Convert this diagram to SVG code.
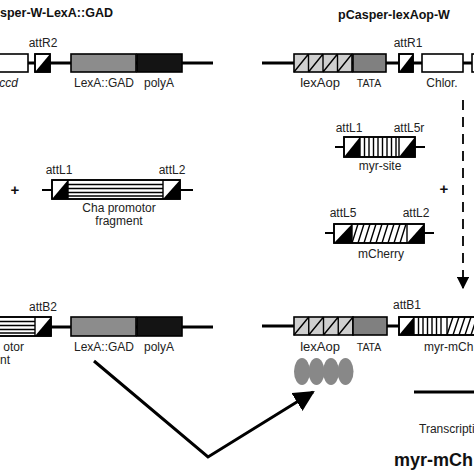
<svg xmlns="http://www.w3.org/2000/svg" width="474" height="474" viewBox="0 0 474 474">
<defs>
<style>
.bb{stroke:#000;stroke-width:3;fill:none}
.st{stroke:#000;stroke-width:2;fill:none}
.bx{stroke:#000;stroke-width:1.6}
.ln{stroke:#000;stroke-width:1.4}
.t{font-family:"Liberation Sans",Arial,sans-serif;font-size:12px;fill:#222}
.ts{font-family:"Liberation Sans",Arial,sans-serif;font-size:10.5px;fill:#222}
.tl{font-family:"Liberation Sans",Arial,sans-serif;font-size:13px;fill:#222}
.tb{font-family:"Liberation Sans",Arial,sans-serif;font-weight:bold;fill:#111}
</style>
<marker id="ah" viewBox="0 0 10 10" refX="9" refY="5" markerWidth="7" markerHeight="7" orient="auto" markerUnits="strokeWidth"><path d="M0,0 L10,5 L0,10 z" fill="#000"/></marker>
<marker id="ah2" viewBox="0 0 10 10" refX="9" refY="5" markerWidth="7" markerHeight="7" orient="auto" markerUnits="strokeWidth"><path d="M0,0 L10,5 L0,10 z" fill="#000"/></marker>
</defs>
<rect width="474" height="474" fill="#fff"/>

<g id="connectors">
<line x1="463" y1="100" x2="463" y2="288" stroke="#000" stroke-width="1.8" stroke-dasharray="10,7" marker-end="url(#ah2)"/>
<polyline points="94,361 208,457 313,392" fill="none" stroke="#000" stroke-width="3" marker-end="url(#ah)"/>
<line x1="414" y1="392" x2="474" y2="392" stroke="#000" stroke-width="3"/>
</g>

<g id="title-left"><text class="tb" x="0" y="17" font-size="12.5">sper-W-LexA::GAD</text></g>
<g id="title-right"><text class="tb" x="394" y="19" font-size="12.5" text-anchor="middle">pCasper-lexAop-W</text></g>

<g id="construct-top-left">
<line class="bb" x1="0" y1="63" x2="213" y2="63"/>
<rect class="bx" x="-3" y="54" width="31" height="18" fill="#fff"/>
<rect class="bx" x="35" y="54" width="15" height="18" fill="#fff"/>
<path d="M35,72 L50,54 L50,72 z" fill="#000"/>
<rect class="bx" x="35" y="54" width="15" height="18" fill="none"/>
<rect class="bx" x="71" y="54" width="65" height="18" fill="#8c8c8c"/>
<rect class="bx" x="137" y="54" width="45" height="18" fill="#141414"/>
<text class="t" x="43" y="47" text-anchor="middle">attR2</text>
<text class="t" x="18" y="87" text-anchor="end" font-style="italic">ccd</text>
<text class="t" x="104" y="87" text-anchor="middle">LexA::GAD</text>
<text class="t" x="159" y="87" text-anchor="middle">polyA</text>
</g>

<g id="construct-top-right">
<line class="bb" x1="262" y1="63" x2="474" y2="63"/>
<rect class="bx" x="294" y="54" width="58" height="18" fill="#cfcfcf"/>
<path class="ln" d="M308.5,54V72M323,54V72M337.5,54V72M294,72L308.5,54M308.5,72L323,54M323,72L337.5,54M337.5,72L352,54"/>
<rect class="bx" x="353" y="54" width="33" height="18" fill="#808080"/>
<rect class="bx" x="399" y="54" width="14" height="18" fill="#fff"/>
<path d="M399,72 L413,54 L413,72 z" fill="#000"/>
<rect class="bx" x="399" y="54" width="14" height="18" fill="none"/>
<rect class="bx" x="422" y="54" width="41" height="18" fill="#fff"/>
<rect class="bx" x="472" y="54" width="10" height="18" fill="#fff"/>
<text class="t" x="408" y="47" text-anchor="middle">attR1</text>
<text class="tl" x="320" y="87" text-anchor="middle">lexAop</text>
<text class="ts" x="369" y="87" text-anchor="middle">TATA</text>
<text class="t" x="442" y="87" text-anchor="middle" font-size="11">Chlor.</text>
</g>

<g id="plus-1"><text class="tb" x="15" y="195" font-size="15" text-anchor="middle">+</text></g>

<g id="cha-fragment">
<line class="st" x1="42" y1="190" x2="52" y2="190"/>
<line class="st" x1="180" y1="190" x2="193" y2="190"/>
<rect class="bx" x="52" y="180" width="128" height="19" fill="#fff"/>
<path class="ln" d="M68,184.5H163M68,188.5H163M68,192.5H163M68,196H163"/>
<path d="M52,199 L68,180 L68,199 z" fill="#000"/>
<path d="M163,199 L180,180 L180,199 z" fill="#000"/>
<path class="ln" d="M68,180V199M163,180V199"/>
<rect class="bx" x="52" y="180" width="128" height="19" fill="none"/>
<text class="t" x="59" y="174" text-anchor="middle">attL1</text>
<text class="t" x="172" y="174" text-anchor="middle">attL2</text>
<text class="t" x="119" y="212" text-anchor="middle">Cha promotor</text>
<text class="t" x="119" y="225" text-anchor="middle">fragment</text>
</g>

<g id="myr-site">
<line class="st" x1="335" y1="147" x2="344" y2="147"/>
<line class="st" x1="415" y1="147" x2="425" y2="147"/>
<rect class="bx" x="344" y="137" width="71" height="20" fill="#fff"/>
<path class="ln" d="M364.5,137V157M369,137V157M373.5,137V157M378,137V157M382.5,137V157M387,137V157M391.5,137V157M396,137V157"/>
<path d="M344,157 L360,137 L360,157 z" fill="#000"/>
<path d="M399,157 L415,137 L415,157 z" fill="#000"/>
<path class="ln" d="M360,137V157M399,137V157"/>
<rect class="bx" x="344" y="137" width="71" height="20" fill="none"/>
<text class="t" x="349" y="132" text-anchor="middle">attL1</text>
<text class="t" x="409" y="132" text-anchor="middle">attL5r</text>
<text class="t" x="380" y="170" text-anchor="middle">myr-site</text>
</g>

<g id="plus-2"><text class="tb" x="444" y="194" font-size="15" text-anchor="middle">+</text></g>

<g id="mcherry">
<line class="st" x1="325" y1="233" x2="334" y2="233"/>
<line class="st" x1="424" y1="233" x2="434" y2="233"/>
<rect class="bx" x="334" y="224" width="90" height="19" fill="#fff"/>
<path class="ln" d="M352,243L358,224M358,243L364,224M364,243L370,224M370,243L376,224M376,243L382,224M382,243L388,224M388,243L394,224M394,243L400,224M400,243L406,224"/>
<path d="M334,243 L352,224 L352,243 z" fill="#000"/>
<path d="M407,243 L424,224 L424,243 z" fill="#000"/>
<path class="ln" d="M352,224V243M407,224V243"/>
<rect class="bx" x="334" y="224" width="90" height="19" fill="none"/>
<text class="t" x="343" y="217" text-anchor="middle">attL5</text>
<text class="t" x="416" y="217" text-anchor="middle">attL2</text>
<text class="t" x="381" y="258" text-anchor="middle">mCherry</text>
</g>

<g id="construct-bottom-left">
<line class="bb" x1="0" y1="327" x2="213" y2="327"/>
<rect class="bx" x="-3" y="317" width="54" height="19" fill="#fff"/>
<path class="ln" d="M0,321.5H35M0,325.5H35M0,329.5H35M0,333H35"/>
<path d="M35,336 L51,317 L51,336 z" fill="#000"/>
<path class="ln" d="M35,317V336"/>
<rect class="bx" x="-3" y="317" width="54" height="19" fill="none"/>
<rect class="bx" x="71" y="317" width="65" height="19" fill="#8c8c8c"/>
<rect class="bx" x="137" y="317" width="45" height="19" fill="#141414"/>
<text class="t" x="43" y="311" text-anchor="middle">attB2</text>
<text class="t" x="24" y="351" text-anchor="end">otor</text>
<text class="t" x="10" y="364" text-anchor="end">nt</text>
<text class="t" x="104" y="351" text-anchor="middle">LexA::GAD</text>
<text class="t" x="159" y="351" text-anchor="middle">polyA</text>
</g>

<g id="construct-bottom-right">
<line class="bb" x1="262" y1="326" x2="399" y2="326"/>
<rect class="bx" x="294" y="317" width="59" height="18" fill="#cfcfcf"/>
<path class="ln" d="M308.75,317V335M323.5,317V335M338.25,317V335M294,335L308.75,317M308.75,335L323.5,317M323.5,335L338.25,317M338.25,335L353,317"/>
<rect class="bx" x="353" y="317" width="34" height="18" fill="#808080"/>
<rect class="bx" x="399" y="317" width="80" height="18" fill="#fff"/>
<path class="ln" d="M418.5,317V335M423,317V335M427.5,317V335M432,317V335M436.5,317V335M441,317V335M447,317V335"/>
<path class="ln" d="M447,335L453,317M453,335L459,317M459,335L465,317M465,335L471,317M471,335L477,317"/>
<path d="M399,335 L414,317 L414,335 z" fill="#000"/>
<path class="ln" d="M414,317V335"/>
<rect class="bx" x="399" y="317" width="80" height="18" fill="none"/>
<text class="t" x="407" y="309" text-anchor="middle">attB1</text>
<text class="tl" x="320" y="351" text-anchor="middle">lexAop</text>
<text class="ts" x="369" y="351" text-anchor="middle">TATA</text>
<text class="t" x="424" y="351">myr-mCh</text>
</g>

<g id="lexa-binding">
<ellipse cx="302" cy="371.5" rx="8" ry="13.5" fill="#888"/>
<ellipse cx="316.5" cy="371.5" rx="8" ry="13.5" fill="#888"/>
<ellipse cx="331" cy="371.5" rx="8" ry="13.5" fill="#888"/>
<ellipse cx="345.5" cy="371.5" rx="8" ry="13.5" fill="#888"/>
</g>

<g id="transcription">
<text class="t" x="419" y="433" font-size="11.5">Transcripti</text>
<text class="tb" x="394" y="466" font-size="18">myr-mCh</text>
</g>
</svg>
